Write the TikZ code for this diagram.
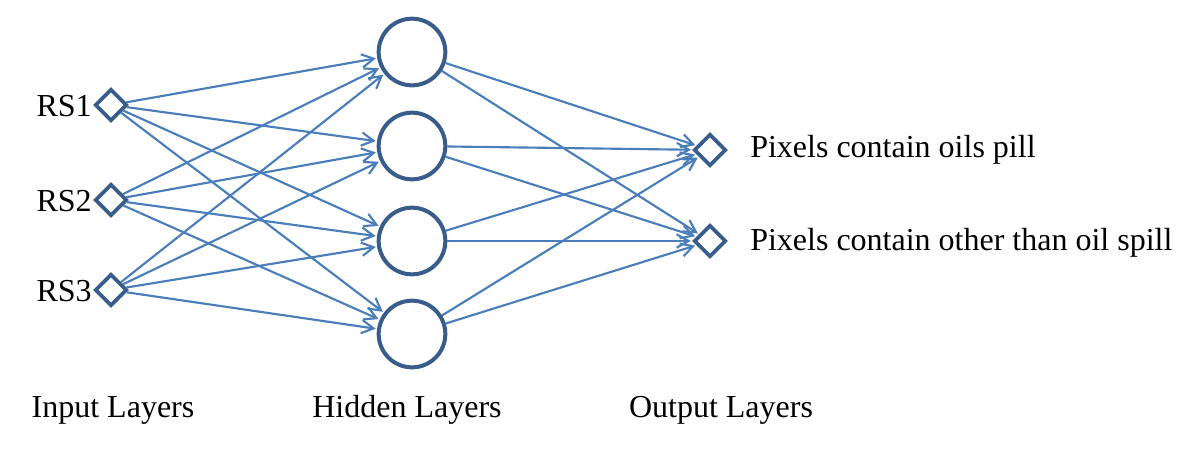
\documentclass[tikz,border=0pt]{standalone}
\usepackage{fontspec}
\setmainfont{Liberation Serif}
\usetikzlibrary{shapes.geometric,arrows.meta}
\definecolor{edge}{HTML}{4A7EBB}
\definecolor{bord}{HTML}{385D8A}
\begin{document}
\begin{tikzpicture}[x=0.75pt,y=-0.75pt,
  inp/.style={diamond,draw=bord,line width=2.8pt,minimum size=24pt,inner sep=0pt},
  hid/.style={circle,draw=bord,line width=3pt,minimum size=50pt,inner sep=0pt},
  con/.style={draw=edge,line width=1.6pt,-{Straight Barb[length=9pt,width=10pt]},shorten >=1pt},
  lab/.style={font=\fontsize{24pt}{28pt}\selectfont,inner sep=0pt}]
\useasboundingbox (0,0) rectangle (1200,458);
\node[inp] (i1) at (111,105) {};
\node[inp] (i2) at (111,200) {};
\node[inp] (i3) at (111,290) {};
\node[hid] (h1) at (412,52) {};
\node[hid] (h2) at (412,146) {};
\node[hid] (h3) at (412,241) {};
\node[hid] (h4) at (412,334) {};
\node[inp] (o1) at (710,150) {};
\node[inp] (o2) at (710,241) {};
\node[lab,anchor=east] (l1) at (92,106) {RS1};
\node[lab,anchor=east] (l2) at (92,201) {RS2};
\node[lab,anchor=east] (l3) at (92,291) {RS3};
\node[lab,anchor=west] (t1) at (750,150) {Pixels contain oils pill};
\node[lab,anchor=west] (t2) at (750,243) {Pixels contain other than oil spill};
\node[lab] (c1) at (113,410) {Input Layers};
\node[lab] (c2) at (407,410) {Hidden Layers};
\node[lab] (c3) at (721,410) {Output Layers};
\foreach \i in {1,2,3}{\foreach \h in {1,2,3,4}{\draw[con] (i\i) -- (h\h);}}
\foreach \h in {1,2,3,4}{\foreach \o in {1,2}{\draw[con] (h\h) -- (o\o);}}
\end{tikzpicture}
\end{document}
